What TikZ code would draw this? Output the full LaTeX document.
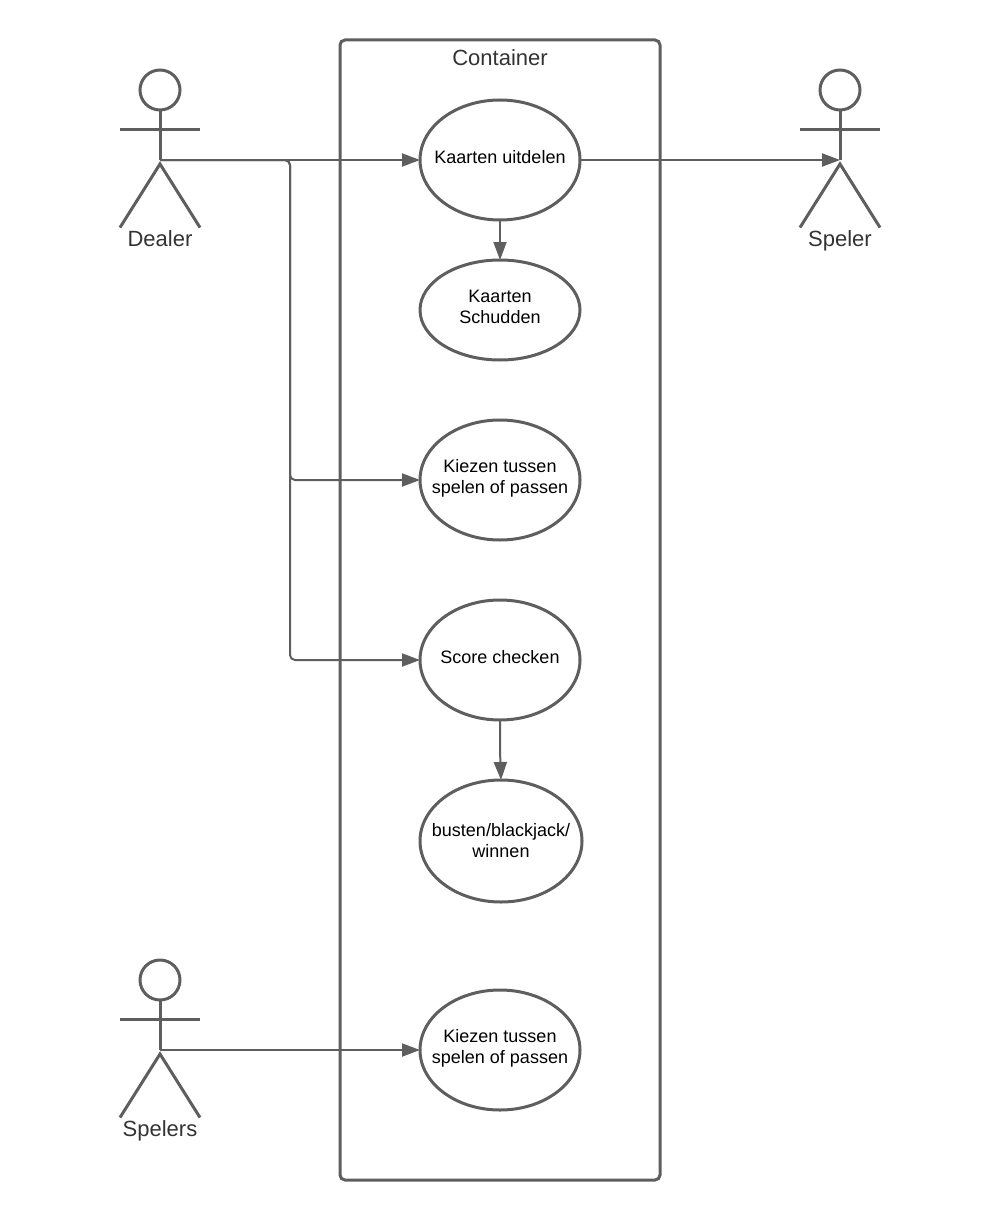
\documentclass[tikz,border=0pt]{standalone}
\usepackage{fontspec}
\setmainfont{Liberation Sans}
\usetikzlibrary{shapes.geometric,arrows.meta}
\definecolor{strk}{HTML}{5E5E5E}
\definecolor{txtd}{HTML}{333333}
\newcommand{\ctext}[2][-3.5pt]{\raisebox{#1}[0pt][0pt]{\makebox[0pt]{\begin{tabular}[c]{@{}c@{}}#2\end{tabular}}}}
\tikzset{
  usecase/.style={draw=strk,line width=3pt,ellipse,inner sep=0pt,outer sep=0pt,text=black,font=\fontsize{18}{21}\selectfont},
  container/.style={draw=strk,line width=3pt,rounded corners=5pt,inner sep=0pt,outer sep=0pt},
  title/.style={text=txtd,font=\fontsize{22}{26}\selectfont,inner sep=0pt,anchor=base},
  link/.style={draw=strk,line width=2pt,-{Triangle[length=18pt,width=13pt]},rounded corners=5pt},
  stick/.style={draw=strk,line width=3pt},
  actorhead/.style={circle,draw=strk,line width=3pt,minimum size=40pt,inner sep=0pt,outer sep=0pt}
}
\newcommand{\actor}[4]{% name, x, y (hip), label
  \coordinate (#1) at (#2,#3);
  \node[actorhead] (#1head) at (#2,#3-70) {};
  \draw[stick] (#1head.south) -- (#1);
  \draw[stick] (#2-40,#3-30.7) -- (#2+40,#3-30.7);
  \draw[stick,line join=miter] (#2-40,#3+67.5) -- (#2,#3+4) -- (#2+40,#3+67.5);
  \node[title] (#1label) at (#2,#3+86) {#4};
}
\begin{document}
\begin{tikzpicture}[x=1pt,y=-1pt]
\useasboundingbox (0,0) rectangle (1000,1220);
\node[container,minimum width=320pt,minimum height=1140pt] (box) at (500,610) {};
\node[title] (boxtitle) at (500,66) {Container};

\node[usecase,minimum width=160pt,minimum height=120pt] (deal) at (500,160) {\ctext{Kaarten uitdelen}};
\node[usecase,minimum width=160pt,minimum height=100pt] (shuffle) at (500,310) {\ctext{Kaarten\\Schudden}};
\node[usecase,minimum width=160pt,minimum height=120pt] (choose) at (500,480) {\ctext{Kiezen tussen\\spelen of passen}};
\node[usecase,minimum width=160pt,minimum height=120pt] (score) at (500,660) {\ctext{Score checken}};
\node[usecase,minimum width=162pt,minimum height=122pt] (bust) at (501,841) {\ctext[-6pt]{busten/blackjack/\\winnen}};
\node[usecase,minimum width=160pt,minimum height=120pt] (choose2) at (500,1050) {\ctext{Kiezen tussen\\spelen of passen}};

\actor{dealer}{160}{160}{Dealer}
\actor{speler}{840}{160}{Speler}
\actor{spelers}{160}{1050}{Spelers}

\draw[link] (dealer) -- (deal.west);
\draw[link] (dealer) -- ++(130,0) |- (choose.west);
\draw[link] (dealer) -- ++(130,0) |- (score.west);
\draw[link] (deal.east) -- (speler);
\draw[link] (deal.south) -- (shuffle.north);
\draw[link] (score.south) -- ++(0,30) -- (bust.north);
\draw[link] (spelers) -- (choose2.west);
\end{tikzpicture}
\end{document}
